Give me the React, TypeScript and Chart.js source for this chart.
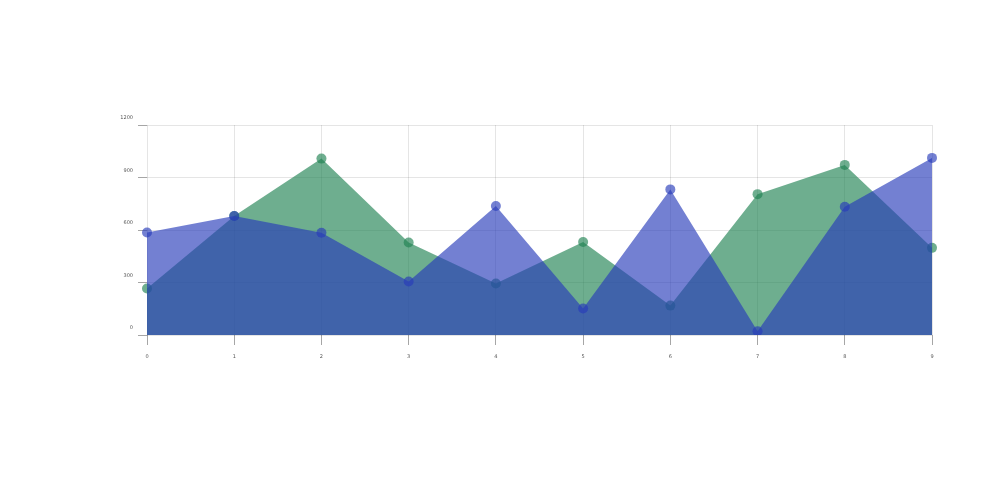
import React, { useEffect, useRef } from "react";
import { Chart, registerables } from "chart.js";

Chart.register(...registerables);

const categories = ["0", "1", "2", "3", "4", "5", "6", "7", "8", "9"];
const blueValues = [586, 680, 584, 306, 737, 151, 832, 21, 733, 1012];
const greenValues = [266, 680, 1008, 529, 294, 531, 168, 805, 972, 498];
const yTicks = [0, 300, 600, 900, 1200];

const BLUE = "rgba(40,60,186,0.65)";
const GREEN = "rgba(32,131,83,0.65)";

export default function App() {
  const ref = useRef<HTMLCanvasElement>(null);

  useEffect(() => {
    if (!ref.current) return;
    const chart = new Chart(ref.current, {
      type: "line",
      data: {
        labels: categories,
        datasets: [
          {
            label: "blue",
            data: blueValues,
            backgroundColor: BLUE,
            borderColor: "transparent",
            borderWidth: 1,
            fill: "origin",
            tension: 0,
            pointRadius: 5,
            pointBackgroundColor: BLUE,
            pointBorderWidth: 0,
            pointBorderColor: "transparent",
          },
          {
            label: "green",
            data: greenValues,
            backgroundColor: GREEN,
            borderColor: "transparent",
            borderWidth: 1,
            fill: "origin",
            tension: 0,
            pointRadius: 5,
            pointBackgroundColor: GREEN,
            pointBorderWidth: 0,
            pointBorderColor: "transparent",
          },
        ],
      },
      options: {
        responsive: false,
        animation: false,
        devicePixelRatio: 1,
        layout: { padding: { left: 107, right: 68, top: 125, bottom: 135 } },
        plugins: { legend: { display: false }, tooltip: { enabled: false } },
        scales: {
          x: {
            offset: false,
            grid: {
              color: "rgba(0,0,0,0.1)",
              tickColor: "rgba(0,0,0,0.35)",
              tickLength: 10,
            },
            border: { display: false },
            ticks: {
              padding: 9,
              color: "#555",
              font: { size: 5, family: "DejaVu Sans" },
              maxRotation: 0,
            },
            afterFit: (s: any) => {
              s.height = 30;
            },
          },
          y: {
            min: 0,
            max: 1200,
            afterBuildTicks: (s: any) => {
              s.ticks = yTicks.map((v) => ({ value: v }));
            },
            grid: {
              color: "rgba(0,0,0,0.1)",
              tickColor: "rgba(0,0,0,0.35)",
              tickLength: 9,
            },
            border: { display: false },
            ticks: {
              padding: 5,
              labelOffset: -7,
              color: "#555",
              font: { size: 5, family: "DejaVu Sans" },
              callback: (v: any) => String(v),
            },
            afterFit: (s: any) => {
              s.width = 40;
            },
          },
        },
      },
    });
    return () => chart.destroy();
  }, []);

  return (
    <div style={{ position: "fixed", left: 0, top: 0, width: 1000, height: 500, background: "#fff" }}>
      <canvas ref={ref} width={1000} height={500} />
    </div>
  );
}
